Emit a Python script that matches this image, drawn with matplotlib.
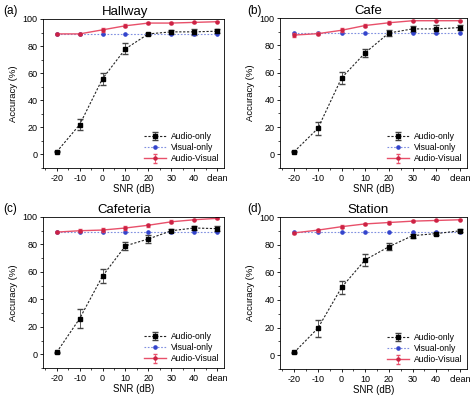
import numpy as np
import matplotlib.pyplot as plt
from matplotlib.ticker import MultipleLocator

snr_labels = ['-20', '-10', '0', '10', '20', '30', '40', 'clean']
titles = ['Hallway', 'Cafe', 'Cafeteria', 'Station']
tags = ['(a)', '(b)', '(c)', '(d)']

audio = [
    [2, 22, 56, 78, 89, 90.5, 90.5, 91],
    [2, 19, 56, 74.5, 89, 92, 92, 93],
    [1.5, 26, 57, 79, 84, 90, 92, 91.5],
    [2, 19.5, 49, 69, 78.5, 86.5, 88, 90],
]
audio_err = [
    [0.5, 4, 4.5, 4, 1, 1.5, 2, 1.5],
    [0.5, 5, 4.5, 3, 2, 2, 3, 2],
    [0.5, 7, 5, 3, 3, 1, 1.5, 2],
    [0.5, 6, 4.5, 4.5, 2.5, 1.5, 1, 1],
]
visual = [
    [89, 89, 89, 89, 89, 89, 89, 89],
    [89, 89, 89, 89, 89, 89, 89, 89],
    [89, 89, 89, 89, 89, 89, 89, 89],
    [89, 89, 89, 89, 89, 89, 89, 89],
]
av = [
    [89, 89, 92, 95, 97, 97, 97.5, 98],
    [87.5, 88.5, 91, 94.5, 96.5, 98, 98, 98],
    [89, 90, 90.5, 92, 94, 96.5, 98, 99],
    [88.5, 90.5, 93, 95, 96, 97, 97.5, 98],
]
av_err = [
    [0.5, 0.8, 1.5, 1, 0.5, 0.5, 0.5, 0.5],
    [1.5, 1, 1.5, 1, 1, 0.5, 0.5, 0.5],
    [0.5, 1, 1.5, 1.5, 1, 1, 0.5, 0.5],
    [0.5, 1, 1, 1, 1, 0.5, 0.5, 0.5],
]

plt.rcParams['font.family'] = ['Liberation Sans', 'DejaVu Sans']

fig = plt.figure(figsize=(4.74, 3.96), dpi=100)
# axes rectangles in pixels: left, top, right, bottom
boxes = [(43, 19, 224, 168), (280, 18, 467, 168),
         (43, 217, 224, 368), (280, 217, 467, 369)]
tag_pos = [(3, 11), (247, 11), (3, 209), (247, 209)]
title_x = [0.455, 0.47, 0.45, 0.47]
W, H = 474, 396
x = np.arange(len(snr_labels))

for i in range(4):
    l, t, r, b = boxes[i]
    ax = fig.add_axes([l / W, 1 - b / H, (r - l) / W, (b - t) / H])
    ax.errorbar(x, audio[i], yerr=audio_err[i], color='#222222', ls=(0, (2, 1.5)),
                lw=0.8, marker='s', ms=3.5, mfc='black', mec='black',
                capsize=2, elinewidth=0.6, ecolor='#444444', label='Audio-only')
    ax.plot(x, visual[i], color='#7f8fe0', ls=(0, (1.5, 1.5)), lw=0.8,
            marker='o', ms=2.3, mfc='#3344cc', mec='#3344cc', label='Visual-only')
    ax.errorbar(x, av[i], yerr=av_err[i], color='#e8506a', lw=1.0,
                marker='o', ms=2.2, mfc='#cc2244', mec='#cc2244',
                capsize=1.5, elinewidth=0.6, label='Audio-Visual')
    ax.set_xlim(-0.6, 7.3)
    ax.set_ylim(-10, 100)
    ax.set_yticks([0, 20, 40, 60, 80, 100])
    ax.set_xticks(x)
    ax.set_xticklabels(snr_labels)
    ax.xaxis.set_minor_locator(MultipleLocator(0.5))
    ax.yaxis.set_minor_locator(MultipleLocator(10))
    ax.tick_params(labelsize=6.5, length=2.5, width=0.6, pad=1.5)
    ax.tick_params(which='minor', length=1.5, width=0.5)
    for s in ax.spines.values():
        s.set_linewidth(0.6)
    ax.set_xlabel('SNR (dB)', fontsize=7, labelpad=1)
    ax.set_ylabel('Accuracy (%)', fontsize=6.8, labelpad=3)
    ax.set_title(titles[i], fontsize=9.5, pad=3, x=title_x[i])
    fig.text(tag_pos[i][0] / W, 1 - tag_pos[i][1] / H, tags[i], fontsize=8.5,
             ha='left', va='center')
    h, lb = ax.get_legend_handles_labels()
    order = [lb.index('Audio-only'), lb.index('Visual-only'), lb.index('Audio-Visual')]
    ax.legend([h[k] for k in order], [lb[k] for k in order], loc='lower right',
              fontsize=6.2, frameon=False, handlelength=2.6,
              borderaxespad=0.15, labelspacing=0.25, handletextpad=0.5)

fig.savefig('out.png', dpi=100)
